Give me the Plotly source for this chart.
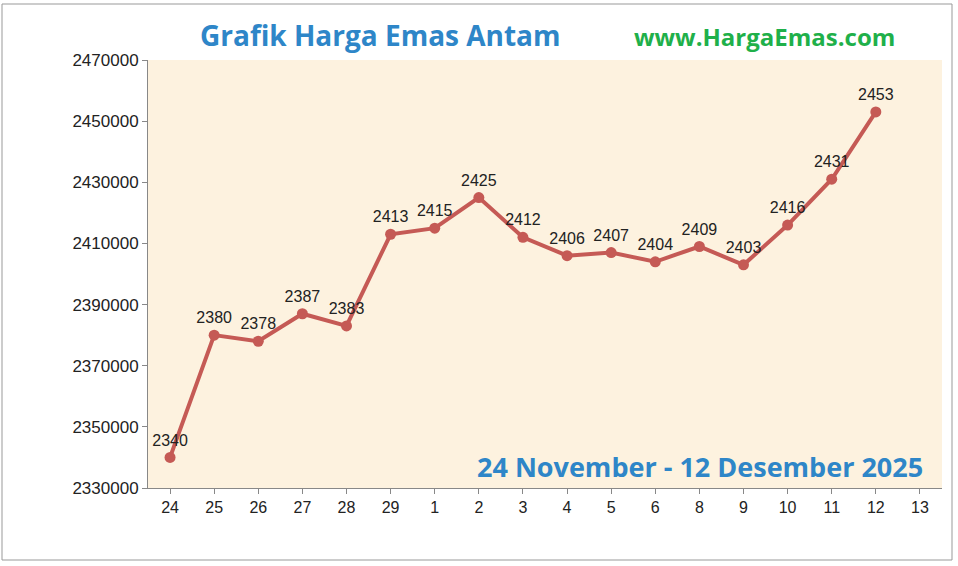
import plotly.graph_objects as go

categories = ["24","25","26","27","28","29","1","2","3","4","5","6","8","9","10","11","12","13"]
prices_k = [2340,2380,2378,2387,2383,2413,2415,2425,2412,2406,2407,2404,2409,2403,2416,2431,2453]
prices = [v*1000 for v in prices_k]
y_ticks = [2330000,2350000,2370000,2390000,2410000,2430000,2450000,2470000]

L, R, T, B = 148, 16, 60, 78
pw, ph = 958-L-R, 566-T-B
def px(x): return (x-L)/pw
def py(y): return (566-B-y)/ph

fig = go.Figure()
fig.add_trace(go.Scatter(
    x=categories[:len(prices)], y=prices, mode="lines+markers+text",
    text=[str(v) for v in prices_k], textposition="top center",
    textfont=dict(family="Liberation Sans, Arial", size=16, color="#222"),
    line=dict(color="#c55a55", width=4), marker=dict(color="#c55a55", size=11),
    cliponaxis=False))
fig.update_layout(
    width=958, height=566, showlegend=False,
    paper_bgcolor="white", plot_bgcolor="#fdf2df",
    margin=dict(l=L, r=R, t=T, b=B, autoexpand=False),
    xaxis=dict(type="category", categoryorder="array", categoryarray=categories,
               range=[-0.5, len(categories)-0.5], showgrid=False,
               showline=True, linecolor="#888", ticks="outside", ticklen=5, tickcolor="#888",
               tickfont=dict(family="Liberation Sans, Arial", size=16, color="#222")),
    yaxis=dict(range=[2330000,2470000], tickvals=y_ticks, ticktext=[str(t) for t in y_ticks],
               showgrid=False, showline=True, linecolor="#888", ticks="outside", ticklen=5,
               tickcolor="#888", tickfont=dict(family="Liberation Sans, Arial", size=17, color="#222")),
    shapes=[dict(type="rect", xref="paper", yref="paper", x0=px(2), x1=px(952), y0=py(560), y1=py(4),
                 line=dict(color="#999", width=1), layer="below")],
    annotations=[
        dict(text="<b>Grafik Harga Emas Antam</b>", x=px(380), y=py(35), xref="paper", yref="paper",
             xanchor="center", yanchor="middle",
             showarrow=False, font=dict(family="Open Sans", size=28, color="#2e86c8")),
        dict(text="<b>www.HargaEmas.com</b>", x=px(764), y=py(37), xref="paper", yref="paper",
             xanchor="center", yanchor="middle",
             showarrow=False, font=dict(family="Open Sans", size=24, color="#1fb04a")),
        dict(text="<b>24 November - 12 Desember 2025</b>", x=px(700), y=py(466), xref="paper",
             yref="paper", xanchor="center", yanchor="middle",
             showarrow=False, font=dict(family="Open Sans", size=27, color="#2e86c8")),
    ])
fig.write_html("out.html", config={"displayModeBar": False},
               post_script="document.body.style.margin='0';window.dispatchEvent(new Event('resize'));")
